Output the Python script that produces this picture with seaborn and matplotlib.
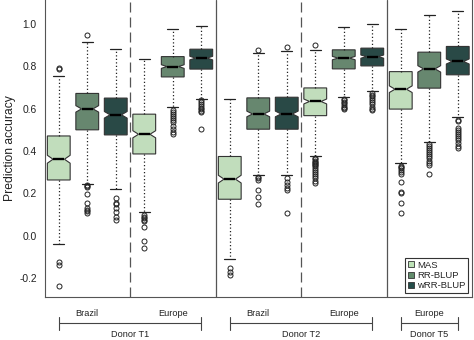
import numpy as np
import pandas as pd
import matplotlib
matplotlib.use("Agg")
import matplotlib.pyplot as plt
import matplotlib.transforms as mtransforms
from matplotlib.lines import Line2D
import seaborn as sns

# ---------------- data ----------------
donors = ["Donor T1", "Donor T1", "Donor T2", "Donor T2", "Donor T5"]
regions = ["Brazil", "Europe", "Brazil", "Europe", "Europe"]
methods = ["MAS", "RR-BLUP", "wRR-BLUP"]
colors = ["#bde2b6", "#628c6c", "#244e4a"]
yticks = [-0.2, 0.0, 0.2, 0.4, 0.6, 0.8, 1.0]

# five-number summaries (whisker low, Q1, median, Q3, whisker high) per panel
mas_lo = [-0.039, 0.112, -0.109, 0.374, 0.345]
mas_q1 = [0.263, 0.386, 0.172, 0.567, 0.598]
mas_med = [0.361, 0.479, 0.267, 0.634, 0.692]
mas_q3 = [0.471, 0.574, 0.374, 0.698, 0.775]
mas_hi = [0.755, 0.834, 0.648, 0.876, 0.977]
mas_out = [
    [0.794, 0.789, -0.123, -0.137, -0.238],
    [0.098, 0.090, 0.082, 0.075, 0.070, 0.040, -0.025, -0.060],
    [-0.154, -0.170, -0.186],
    [0.902, 0.365, 0.360, 0.355, 0.350, 0.345, 0.340, 0.335, 0.330, 0.320,
     0.310, 0.300, 0.290, 0.280, 0.270, 0.260, 0.250],
    [0.330, 0.325, 0.320, 0.310, 0.300, 0.290, 0.255, 0.208, 0.200, 0.153, 0.109],
]

rr_lo = [0.245, 0.607, 0.287, 0.657, 0.444]
rr_q1 = [0.500, 0.750, 0.503, 0.788, 0.697]
rr_med = [0.599, 0.799, 0.575, 0.839, 0.788]
rr_q3 = [0.672, 0.846, 0.651, 0.878, 0.867]
rr_hi = [0.913, 0.977, 0.862, 0.985, 1.043]
rr_out = [
    [0.949, 0.238, 0.235, 0.232, 0.197, 0.156, 0.130, 0.122, 0.115, 0.106],
    [0.595, 0.585, 0.575, 0.565, 0.555, 0.545, 0.535, 0.520, 0.505, 0.490, 0.478],
    [0.876, 0.279, 0.272, 0.263, 0.216, 0.184, 0.150],
    [0.648, 0.640, 0.632, 0.625, 0.618, 0.610, 0.603, 0.597],
    [0.435, 0.425, 0.415, 0.405, 0.395, 0.385, 0.375, 0.365, 0.355, 0.345,
     0.335, 0.292],
]

wrr_lo = [0.219, 0.648, 0.287, 0.684, 0.561]
wrr_q1 = [0.476, 0.787, 0.503, 0.802, 0.760]
wrr_med = [0.571, 0.839, 0.575, 0.846, 0.823]
wrr_q3 = [0.650, 0.881, 0.654, 0.886, 0.894]
wrr_hi = [0.884, 0.991, 0.873, 0.999, 1.062]
wrr_out = [
    [0.180, 0.156, 0.150, 0.130, 0.110, 0.090, 0.074],
    [0.640, 0.630, 0.620, 0.612, 0.605, 0.598, 0.590, 0.583, 0.505],
    [0.891, 0.270, 0.255, 0.240, 0.225, 0.215, 0.109],
    [0.672, 0.665, 0.658, 0.650, 0.640, 0.630, 0.620, 0.610, 0.600, 0.594],
    [0.547, 0.540, 0.508, 0.497, 0.490, 0.480, 0.470, 0.460, 0.450, 0.440,
     0.425, 0.413],
]

n_reps = 60  # weight of each summary value (sets the notch size)

summaries = {
    "MAS": (mas_lo, mas_q1, mas_med, mas_q3, mas_hi, mas_out),
    "RR-BLUP": (rr_lo, rr_q1, rr_med, rr_q3, rr_hi, rr_out),
    "wRR-BLUP": (wrr_lo, wrr_q1, wrr_med, wrr_q3, wrr_hi, wrr_out),
}

rows = []
for j, m in enumerate(methods):
    lo, q1, med, q3, hi, out = summaries[m]
    for i in range(len(regions)):
        slot = i * len(methods) + j + 1
        vals = [lo[i], q1[i], med[i], q3[i], hi[i]] * n_reps + list(out[i])
        for v in vals:
            rows.append({"slot": slot, "method": m, "acc": v})
df = pd.DataFrame(rows)

# ---------------- plotting ----------------
sns.set_theme(style="white")
plt.rcParams["font.family"] = ["Liberation Sans", "DejaVu Sans"]

W, H = 474, 340
fig = plt.figure(figsize=(W / 100, H / 100), dpi=100)
ax = fig.add_axes([44.5 / W, 1 - 297 / H, (472 - 44.5) / W, 297 / H])

sns.boxplot(
    data=df, x="slot", y="acc", hue="method", hue_order=methods,
    palette=colors, native_scale=True, dodge=False, width=0.8,
    notch=True, whis=1.5, linecolor="#333333", linewidth=0.8,
    fliersize=3.6, legend=False, ax=ax,
    flierprops=dict(marker="o", markerfacecolor="none",
                    markeredgecolor="#222222", markeredgewidth=0.7),
    medianprops=dict(color="black", linewidth=1.7),
    whiskerprops=dict(color="#222222", linestyle=(0, (1.0, 1.8)), linewidth=0.9),
    capprops=dict(color="#222222", linewidth=0.9),
)

ax.set_xlim(0.5, 15.5)
ax.set_ylim(-0.29, 1.1135)

ax.set_yticks(yticks)
ax.set_yticklabels([f"{t:.1f}" for t in yticks], fontsize=7.4, color="#222222")
ax.set_ylabel("Prediction accuracy", fontsize=8.7, color="#222222")
ax.yaxis.set_label_coords(-0.066, 0.5)

nm = len(methods)
centers = [i * nm + (nm + 1) / 2 for i in range(len(regions))]
ax.set_xticks(centers)
ax.set_xticklabels(regions, fontsize=6.6, color="#222222")
ax.set_xlabel("")
ax.tick_params(axis="both", length=3.5, width=0.7, color="#555555", pad=2)
ax.tick_params(axis="x", pad=5)

for side in ["left", "bottom", "right"]:
    ax.spines[side].set_visible(True)
    ax.spines[side].set_color("#555555")
    ax.spines[side].set_linewidth(0.8)
ax.spines["top"].set_visible(False)

# separators between panels
for i in range(len(regions) - 1):
    xb = (i + 1) * nm + 0.5
    if donors[i] == donors[i + 1]:
        ax.axvline(xb, color="#555555", linewidth=0.9, linestyle=(0, (8, 4)), zorder=0)
    else:
        ax.axvline(xb, color="#555555", linewidth=0.9, zorder=0)

# donor brackets below the axis
trans = mtransforms.blended_transform_factory(ax.transData, ax.transAxes)
y_br = -(323 - 297) / 297
y_cap_top = -(317 - 297) / 297
y_cap_bot = -(330 - 297) / 297
y_lab = -(334.5 - 297) / 297
seen = []
for d in donors:
    if d in seen:
        continue
    seen.append(d)
    idx = [i for i, dd in enumerate(donors) if dd == d]
    x0 = idx[0] * nm + 1
    x1 = idx[-1] * nm + nm
    for xs, ys in [([x0, x1], [y_br, y_br]), ([x0, x0], [y_cap_top, y_cap_bot]),
                   ([x1, x1], [y_cap_top, y_cap_bot])]:
        ax.add_line(Line2D(xs, ys, transform=trans, color="#444444",
                           linewidth=0.8, clip_on=False))
    ax.text((x0 + x1) / 2, y_lab, d, transform=trans, ha="center", va="center",
            fontsize=6.6, color="#222222")

handles = [Line2D([], [], marker="s", linestyle="none", markerfacecolor=c,
                  markeredgecolor="#333333", markeredgewidth=0.6, markersize=4.5)
           for c in colors]
leg = ax.legend(handles, methods, loc="lower right", fontsize=6.8, frameon=True,
                fancybox=False, edgecolor="#333333", framealpha=1,
                handlelength=0.7, handletextpad=0.3, borderpad=0.3,
                labelspacing=0.15, borderaxespad=0.4)
leg.get_frame().set_linewidth(0.8)

fig.savefig("out.png", dpi=100)
